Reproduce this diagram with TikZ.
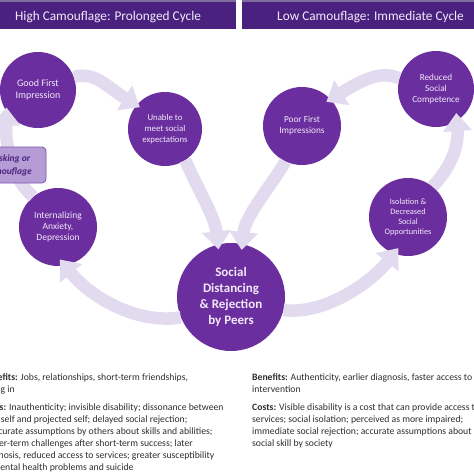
\documentclass[tikz,border=0pt]{standalone}
\usepackage{fontspec}
\setmainfont{Carlito}
\usetikzlibrary{arrows.meta}
\definecolor{hdr}{HTML}{4B2180}
\definecolor{hdrtop}{HTML}{7E6C9C}
\definecolor{circ}{HTML}{6B2E9E}
\definecolor{arr}{HTML}{E2DAEE}
\definecolor{boxfill}{HTML}{B59CD5}
\definecolor{boxline}{HTML}{7D57AE}
\definecolor{ctext}{HTML}{F1E9F8}
\definecolor{btext}{HTML}{2E2E2E}
\tikzset{
  bubble/.style={circle, fill=circ, text=ctext, inner sep=0pt, align=center},
  flow/.style={draw=arr, line width=12.5pt, -{Triangle[length=18pt,width=28pt]}},
  hdrtext/.style={text=ctext, font=\fontsize{13.3}{16}\selectfont, inner sep=0pt},
  note/.style={text=btext, font=\fontsize{9.7}{12}\selectfont, align=left, inner sep=0pt, anchor=north west},
}
\begin{document}
\begin{tikzpicture}[x=1pt,y=-1pt]
\fill[white] (0,0) rectangle (474,474);
\useasboundingbox (0,0) rectangle (474,474);
\clip (0,0) rectangle (474,474);
% headers
\fill[hdr] (0,0) rectangle (236,29);
\fill[hdr] (242,0) rectangle (474,29);
\fill[hdrtop] (0,0) rectangle (236,2);
\fill[hdrtop] (242,0) rectangle (474,2);
\node[hdrtext, anchor=base west] (hl) at (15,20.5) {High Camouflage: Prolonged Cycle};
\node[hdrtext, anchor=base east] (hr) at (464,20.5) {Low Camouflage: Immediate Cycle};
% circles
\node[bubble, minimum size=76pt, font=\fontsize{10}{12}\selectfont] (gfi) at (38,90) {Good First\\Impression};
\node[bubble, minimum size=74pt, font=\fontsize{8.8}{11}\selectfont] (unable) at (165,129) {Unable to\\meet social\\expectations};
\node[bubble, minimum size=78pt, font=\fontsize{9.5}{11.3}\selectfont] (intern) at (58,227) {Internalizing\\Anxiety,\\Depression};
\node[bubble, minimum size=108pt, font=\bfseries\fontsize{13}{16}\selectfont] (central) at (231,297) {Social\\Distancing\\\& Rejection\\by Peers};
\node[bubble, minimum size=78pt, font=\fontsize{9.3}{11}\selectfont] (poor) at (302,126) {Poor First\\Impressions};
\node[bubble, minimum size=76pt, font=\fontsize{9.2}{11}\selectfont] (reduced) at (436,89) {Reduced\\Social\\Competence};
\node[bubble, minimum size=78pt, font=\fontsize{8.3}{10}\selectfont] (isol) at (408,217) {Isolation \&\\Decreased\\Social\\Opportunities};
% arrows, left cycle
\draw[flow, shorten >=-4pt] (gfi.20) .. controls +(21,-6) and +(-28,-17) .. (unable.140);
\draw[flow, shorten >=-5pt] (unable.-57) .. controls +(12,28) and +(-3,-28) .. (central.104);
\draw[flow, shorten >=-8pt] (central.202) .. controls +(-40,7) and +(29,35) .. (intern.-80);
\draw[flow, shorten >=-4pt] (intern.129) .. controls +(-18,-14) and +(-1,40) .. (gfi.-146);
% arrows, right cycle
\draw[flow, shorten >=-5pt] (reduced.164) .. controls +(-20,-10) and +(25,-15) .. (poor.43);
\draw[flow, shorten >=-6pt] (poor.-115) .. controls +(-17,28) and +(3,-28) .. (central.78);
\draw[flow, shorten >=-7pt] (central.-14) .. controls +(41,5) and +(-23,29) .. (isol.-111);
\draw[flow, shorten >=-8pt] (isol.51) .. controls +(16,-17) and +(2,28) .. (reduced.-57);
% masking box
\node[draw=boxline, line width=0.8pt, fill=boxfill, rounded corners=4pt, minimum width=76pt, minimum height=36pt, text=hdr, font=\bfseries\itshape\fontsize{9.5}{13}\selectfont, align=center, inner sep=0pt] (mask) at (8,165) {Masking or\\Camouflage};
% notes
\node[note] (benL) at (-18,373) {\textbf{Benefits:} Jobs, relationships, short-term friendships,\\fitting in};
\node[note] (costL) at (-18,404) {\textbf{Costs:} Inauthenticity; invisible disability; dissonance between\\true self and projected self; delayed social rejection;\\inaccurate assumptions by others about skills and abilities;\\longer-term challenges after short-term success; later\\diagnosis, reduced access to services; greater susceptibility\\to mental health problems and suicide};
\node[note] (benR) at (252,373) {\textbf{Benefits:} Authenticity, earlier diagnosis, faster access to\\intervention};
\node[note] (costR) at (252,404) {\textbf{Costs:} Visible disability is a cost that can provide access to\\services; social isolation; perceived as more impaired;\\immediate social rejection; accurate assumptions about\\social skill by society};
\end{tikzpicture}
\end{document}
